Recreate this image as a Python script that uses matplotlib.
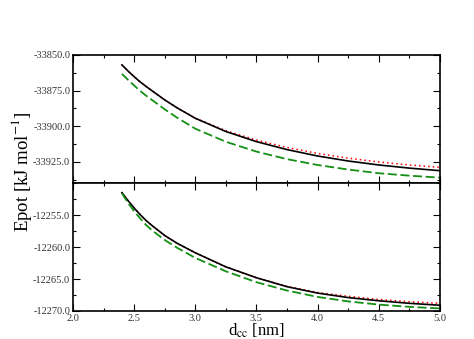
import matplotlib
matplotlib.use('Agg')
import matplotlib.pyplot as plt
from matplotlib.ticker import MultipleLocator, FormatStrFormatter

plt.rcParams['font.family'] = ['Liberation Serif', 'DejaVu Serif']
plt.rcParams['mathtext.fontset'] = 'stix'

# distances [nm]
d = [2.4, 2.45, 2.5, 2.55, 2.6, 2.65, 2.75, 2.85, 3.0, 3.25, 3.5, 3.75, 4.0, 4.25, 4.5, 4.75, 5.0]

# upper panel
top_black = [-33857.0, -33861.3, -33865.3, -33869.0, -33872.3, -33875.4, -33881.6, -33887.1,
             -33894.5, -33903.8, -33910.9, -33916.5, -33921.0, -33924.5, -33927.3, -33929.5, -33931.3]
top_red = [-33857.0, -33861.3, -33865.3, -33869.0, -33872.3, -33875.4, -33881.6, -33887.1,
           -33894.4, -33903.2, -33909.8, -33915.0, -33919.2, -33922.5, -33925.2, -33927.3, -33929.0]
top_green = [-33863.3, -33867.5, -33871.5, -33875.3, -33878.8, -33881.9, -33888.2, -33894.0,
             -33901.8, -33911.0, -33917.9, -33923.2, -33927.3, -33930.5, -33933.1, -33934.8, -33936.2]

# lower panel
bot_black = [-12251.5, -12252.75, -12253.9, -12254.95, -12255.9, -12256.7, -12258.2, -12259.4,
             -12260.9, -12263.1, -12264.8, -12266.2, -12267.2, -12267.9, -12268.4, -12268.8, -12269.1]
bot_red = [-12251.5, -12252.75, -12253.9, -12254.95, -12255.9, -12256.7, -12258.2, -12259.4,
           -12260.9, -12263.1, -12264.8, -12266.15, -12267.1, -12267.7, -12268.2, -12268.55, -12268.8]
bot_green = [-12251.6, -12253.1, -12254.4, -12255.55, -12256.6, -12257.45, -12258.9, -12260.1,
             -12261.7, -12263.8, -12265.5, -12266.8, -12267.8, -12268.5, -12269.0, -12269.35, -12269.6]

green = '#139013'

fig = plt.figure(figsize=(4.74, 3.39), dpi=100)
ax1 = fig.add_axes([0.154, 0.46, 0.774, 0.378])
ax2 = fig.add_axes([0.154, 0.0826, 0.774, 0.3774], sharex=ax1)

for ax, r, b, g in [(ax1, top_red, top_black, top_green), (ax2, bot_red, bot_black, bot_green)]:
    ax.plot(d, r, color='red', linestyle=(0, (1, 2)), lw=1.1)
    ax.plot(d, b, color='black', lw=1.2)
    ax.plot(d, g, color=green, linestyle=(0, (5, 2)), lw=1.3)
    for s in ax.spines.values():
        s.set_linewidth(1.2)
    ax.tick_params(which='both', direction='in', top=True, right=True, labelsize=7.5, pad=2,
                   labelcolor='#333333')
    ax.tick_params(which='major', length=5, width=0.8)
    ax.tick_params(which='minor', length=2.5, width=0.8)
    ax.xaxis.set_major_locator(MultipleLocator(0.5))
    ax.xaxis.set_minor_locator(MultipleLocator(0.25))
    ax.yaxis.set_major_formatter(FormatStrFormatter('%.1f'))
    ax.xaxis.set_major_formatter(FormatStrFormatter('%.1f'))

ax1.set_xlim(2.0, 5.0)
ax1.set_ylim(-33940, -33850)
ax1.set_yticks([-33925, -33900, -33875, -33850])
ax1.yaxis.set_minor_locator(MultipleLocator(12.5))
ax1.tick_params(labelbottom=False)

ax2.set_ylim(-12270, -12250)
ax2.set_yticks([-12270, -12265, -12260, -12255])
ax2.yaxis.set_minor_locator(MultipleLocator(2.5))
ax2.set_xlabel(r'd$_{\rm cc}$ [nm]', fontsize=12, labelpad=-1)

fig.text(0.045, 0.493, r'Epot [kJ mol$^{-1}$]', rotation=90, fontsize=13.5, ha='center', va='center')

fig.savefig('out.png', dpi=100)
